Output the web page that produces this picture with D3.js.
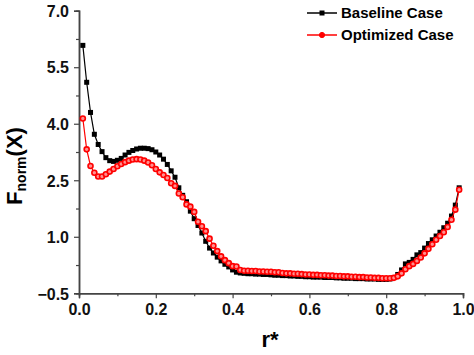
<!DOCTYPE html>
<html><head><meta charset="utf-8">
<script src="https://cdn.jsdelivr.net/npm/d3@7"></script>
<style>body{margin:0;background:#fff}svg{display:block}</style>
</head><body>
<svg id="c" width="474" height="355"></svg>
<script>
const rValues = d3.range(1, 100).map(i => +(i / 100).toFixed(2));
const baseline = [6.08,5.10,4.30,3.72,3.45,3.26,3.10,3.02,3.00,3.03,
3.08,3.17,3.24,3.29,3.33,3.35,3.35,3.34,3.31,3.25,
3.17,3.06,2.92,2.75,2.58,2.30,2.10,1.93,1.68,1.48,
1.30,1.10,0.88,0.70,0.57,0.46,0.36,0.27,0.20,0.12,
0.06,0.04,0.03,0.02,0.02,0.01,0.01,0.00,0.00,-0.01,
-0.02,-0.02,-0.03,-0.03,-0.04,-0.04,-0.05,-0.05,-0.06,-0.06,
-0.07,-0.07,-0.07,-0.08,-0.08,-0.08,-0.09,-0.09,-0.10,-0.10,
-0.10,-0.11,-0.11,-0.11,-0.12,-0.12,-0.12,-0.13,-0.13,-0.13,
-0.12,-0.08,0.00,0.12,0.28,0.32,0.40,0.52,0.58,0.70,
0.82,0.92,1.02,1.12,1.24,1.36,1.55,1.84,2.30];
const optimized = [4.14,3.32,2.88,2.70,2.60,2.60,2.66,2.73,2.80,2.87,
2.93,2.98,3.02,3.05,3.06,3.05,3.02,2.97,2.90,2.80,
2.71,2.64,2.56,2.42,2.35,2.15,2.05,1.86,1.80,1.66,
1.40,1.28,1.15,0.95,0.76,0.62,0.48,0.38,0.30,0.22,
0.21,0.12,0.10,0.10,0.09,0.09,0.08,0.08,0.07,0.07,
0.06,0.06,0.04,0.03,0.03,0.02,0.02,0.01,0.00,0.00,
-0.01,-0.01,-0.02,-0.02,-0.03,-0.03,-0.04,-0.04,-0.05,-0.05,
-0.06,-0.06,-0.07,-0.07,-0.08,-0.08,-0.09,-0.09,-0.10,-0.10,
-0.10,-0.09,-0.05,0.03,0.14,0.22,0.28,0.36,0.45,0.56,
0.68,0.80,0.92,1.02,1.12,1.26,1.45,1.72,2.25];
const seriesNames = ["Baseline Case", "Optimized Case"];
const xTicks = [0, 0.2, 0.4, 0.6, 0.8, 1.0];
const xMinor = [0.1, 0.3, 0.5, 0.7, 0.9];
const yTicks = [-0.5, 1.0, 2.5, 4.0, 5.5, 7.0];
const yMinor = [0.25, 1.75, 3.25, 4.75, 6.25];

const svg = d3.select("#c");
const mLeft = 79, mRight = 463, mTop = 10.7, mBottom = 293.3;
const x = d3.scaleLinear().domain([0, 1]).range([mLeft, mRight]);
const y = d3.scaleLinear().domain([-0.5, 7]).range([mBottom, mTop]);
const font = "'Liberation Sans', Arial, sans-serif";
const axisColor = "#444";

// minor ticks
const xm = svg.append("g").attr("transform", `translate(0,${mBottom})`)
  .call(d3.axisBottom(x).tickValues(xMinor).tickSize(3).tickFormat(""));
const ym = svg.append("g").attr("transform", `translate(${mLeft},0)`)
  .call(d3.axisLeft(y).tickValues(yMinor).tickSize(3).tickFormat(""));
// major
const xa = svg.append("g").attr("transform", `translate(0,${mBottom})`)
  .call(d3.axisBottom(x).tickValues(xTicks).tickSize(5).tickPadding(3).tickFormat(d3.format(".1f")));
const ya = svg.append("g").attr("transform", `translate(${mLeft},0)`)
  .call(d3.axisLeft(y).tickValues(yTicks).tickSize(5).tickPadding(5).tickFormat(d3.format(".1f")));
[xm, ym, xa, ya].forEach(g => {
  g.selectAll("path").attr("stroke", axisColor).attr("stroke-width", 1.5);
  g.selectAll("line").attr("stroke", axisColor).attr("stroke-width", 1.2);
  g.selectAll("text").attr("font-family", font).attr("font-weight", "bold")
    .attr("font-size", 16).attr("fill", "#111");
});
xa.selectAll("text").attr("dy", "0.85em");
ya.selectAll("text").attr("dy", "0.36em");

const line = d3.line().x((d, i) => x(rValues[i])).y(d => y(d));
const sq = 5;
// baseline
svg.append("path").datum(baseline).attr("d", line)
  .attr("fill", "none").attr("stroke", "#000").attr("stroke-width", 1.2);
svg.append("g").selectAll("rect").data(baseline).join("rect")
  .attr("x", (d, i) => x(rValues[i]) - sq / 2).attr("y", d => y(d) - sq / 2)
  .attr("width", sq).attr("height", sq).attr("fill", "#000");
// optimized
svg.append("path").datum(optimized).attr("d", line)
  .attr("fill", "none").attr("stroke", "#f00").attr("stroke-width", 1.2);
svg.append("g").selectAll("circle").data(optimized).join("circle")
  .attr("cx", (d, i) => x(rValues[i])).attr("cy", d => y(d)).attr("r", 2.5)
  .attr("fill", "#ff9090").attr("stroke", "#f00").attr("stroke-width", 1.6);

// axis labels
svg.append("text").attr("x", 270).attr("y", 347).attr("text-anchor", "middle")
  .attr("font-family", font).attr("font-weight", "bold").attr("font-size", 22)
  .text("r*");
const yl = svg.append("text").attr("transform", "translate(22,166) rotate(-90)")
  .attr("text-anchor", "middle").attr("font-family", font).attr("font-weight", "bold")
  .attr("font-size", 22);
yl.append("tspan").text("F");
yl.append("tspan").attr("font-size", 14).attr("dy", 4).text("norm");
yl.append("tspan").attr("dy", -4).text("(X)");

// legend
const lg = svg.append("g");
const legY = [13, 35];
seriesNames.forEach((name, i) => {
  const g = lg.append("g").attr("transform", `translate(0,${legY[i]})`);
  g.append("line").attr("x1", 307).attr("x2", 337).attr("y1", 0).attr("y2", 0)
    .attr("stroke", i === 0 ? "#000" : "#f00").attr("stroke-width", 1.5);
  if (i === 0) g.append("rect").attr("x", 322 - sq / 2).attr("y", -sq / 2)
    .attr("width", sq).attr("height", sq).attr("fill", "#000");
  else g.append("circle").attr("cx", 322).attr("cy", 0).attr("r", 2.6)
    .attr("fill", "#f00").attr("stroke", "#f00");
  g.append("text").attr("x", 341).attr("y", 0).attr("dy", "0.36em")
    .attr("font-family", font).attr("font-weight", "bold").attr("font-size", 15)
    .text(name);
});
</script>
</body></html>
